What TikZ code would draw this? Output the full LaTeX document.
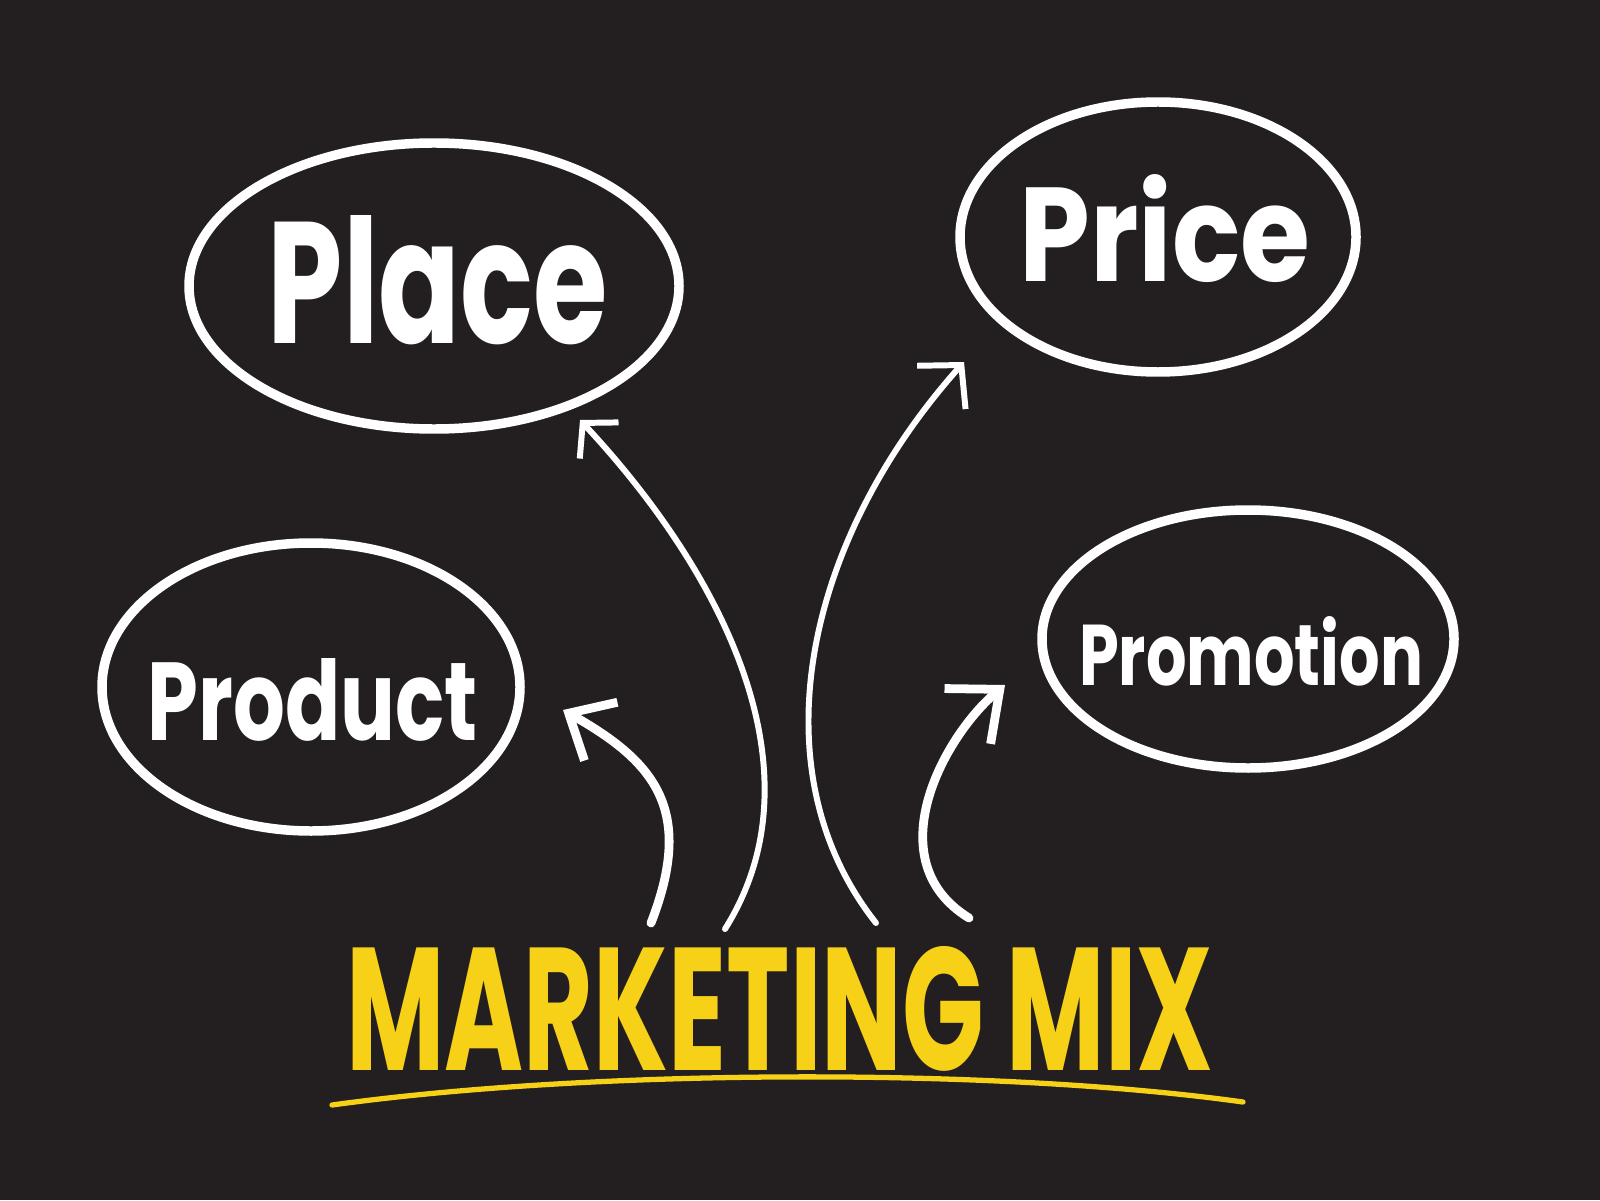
\documentclass[tikz,border=0pt]{standalone}
\usepackage{fontspec}
\setmainfont{Poppins}
\usetikzlibrary{shapes.geometric,arrows.meta}
\definecolor{board}{HTML}{231F20}
\definecolor{marker}{HTML}{F7D117}
% squeeze a word into the box it takes in the sketch
\newcommand{\chalkword}[3]{\resizebox{#1}{#2}{\bfseries #3}}
\begin{document}
\begin{tikzpicture}[
    bubble/.style={draw=white, line width=2.7pt, ellipse, inner sep=0pt},
    word/.style={text=white, inner sep=0pt},
    thinarrow/.style={draw=white, line width=1.7pt, line cap=round},
    fatarrow/.style={draw=white, line width=2.5pt, line cap=round}
]
    % Draw the board
    \fill[board] (0,0) rectangle (16,12);

    % Draw the four bubbles
    \node[bubble, minimum width=4.90cm, minimum height=2.86cm] (place) at (4.34,9.14) {};
    \node[bubble, minimum width=3.96cm, minimum height=2.70cm] (price) at (11.58,9.63) {};
    \node[bubble, minimum width=4.18cm, minimum height=2.88cm] (product) at (3.11,5.13) {};
    \node[bubble, minimum width=4.12cm, minimum height=2.58cm] (promotion) at (12.48,5.61) {};

    % Write the words inside the bubbles
    \node[word] (placeText) at (4.38,9.20) {\chalkword{3.40cm}{1.28cm}{Place}};
    \node[word] (priceText) at (11.65,9.71) {\chalkword{2.91cm}{1.07cm}{Price}};
    \node[word] (productText) at (3.13,5.00) {\chalkword{3.30cm}{0.82cm}{Product}};
    \node[word] (promotionText) at (12.51,5.49) {\chalkword{3.44cm}{0.69cm}{Promotion}};

    % Draw the title and its underline
    \node[text=marker, inner sep=0pt] (mix) at (7.80,1.91) {\chalkword{8.67cm}{1.24cm}{MARKETING MIX}};
    \draw[marker, line width=1.5pt, line cap=round] (3.32,0.95) .. controls (6,1.32) and (10,1.32) .. (12.43,0.98);

    % Ends of the arrows
    \coordinate (productFrom) at (6.51,2.77);
    \coordinate (productTo) at (5.63,4.90);
    \coordinate (placeFrom) at (7.25,2.71);
    \coordinate (placeTo) at (5.80,7.80);
    \coordinate (priceFrom) at (8.76,2.77);
    \coordinate (priceTo) at (9.64,8.38);
    \coordinate (promotionFrom) at (9.69,2.82);
    \coordinate (promotionTo) at (10.05,5.15);

    % Draw the arrows from the title to the bubbles
    \draw[fatarrow, -{Straight Barb[length=3.7mm, width=6.7mm]}] (productFrom) .. controls (6.95,3.9) and (6.55,4.38) .. (productTo);
    \draw[thinarrow, -{Straight Barb[length=2.4mm, width=5.3mm]}] (placeFrom) .. controls (8.25,4.3) and (7.2,6.3) .. (placeTo);
    \draw[thinarrow, -{Straight Barb[length=3mm, width=6.5mm]}] (priceFrom) .. controls (7.55,4.3) and (8.05,6.6) .. (priceTo);
    \draw[fatarrow, -{Straight Barb[length=4.2mm, width=7.2mm]}] (promotionFrom) .. controls (8.75,3.4) and (9.45,4.65) .. (promotionTo);
\end{tikzpicture}
\end{document}
